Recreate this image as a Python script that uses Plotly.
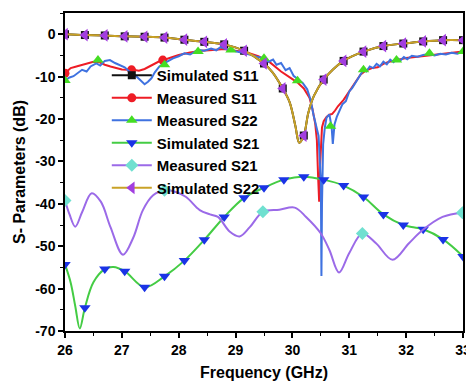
import plotly.graph_objects as go

# ---------------- data ----------------
# Simulated S22 (smooth curve) and its markers
sim_s22_x = [26.0, 26.35, 26.7, 27.05, 27.4, 27.75, 28.1, 28.45, 28.8, 29.15, 29.5, 29.65,
             29.83, 29.95, 30.05, 30.12, 30.2, 30.28, 30.38, 30.55, 30.9, 31.25, 31.6,
             31.95, 32.3, 32.65, 33.0]
sim_s22_y = [0.0, -0.2, -0.3, -0.5, -0.6, -0.8, -1.3, -1.8, -2.4, -3.9, -6.9, -9.0,
             -12.8, -16.0, -21.5, -25.6, -23.9, -18.5, -14.5, -10.7, -6.3, -4.1, -2.8,
             -2.2, -1.7, -1.4, -1.4]
sim_s22_mx = [26.0, 26.35, 26.7, 27.05, 27.4, 27.75, 28.1, 28.45, 28.8, 29.15, 29.5, 29.83,
              30.2, 30.55, 30.9, 31.25, 31.6, 31.95, 32.3, 32.65, 33.0]
sim_s22_my = [0.0, -0.2, -0.3, -0.5, -0.6, -0.8, -1.3, -1.8, -2.4, -3.9, -6.9, -12.8,
              -23.9, -10.7, -6.3, -4.1, -2.8, -2.2, -1.7, -1.4, -1.4]

# Simulated S11 (hidden underneath Simulated S22)
sim_s11_x = sim_s22_x
sim_s11_y = sim_s22_y
sim_s11_mx = sim_s22_mx
sim_s11_my = sim_s22_my

# Measured S11
meas_s11_x = [26.0, 26.1, 26.2, 26.3, 26.4, 26.5, 26.6, 26.7, 26.8, 26.9, 27.0, 27.1, 27.2,
              27.3, 27.4, 27.5, 27.6, 27.7, 27.8, 27.9, 28.0, 28.2, 28.4, 28.6, 28.8, 29.0,
              29.2, 29.4, 29.6, 29.8, 29.9, 30.0, 30.1, 30.2, 30.3, 30.35, 30.4, 30.43,
              30.45, 30.47, 30.49, 30.52, 30.55, 30.6, 30.65, 30.7, 30.75, 30.8, 30.9,
              31.0, 31.1, 31.2, 31.3, 31.4, 31.5, 31.6, 31.7, 31.8, 31.9, 32.0, 32.2,
              32.4, 32.6, 32.8, 33.0]
meas_s11_y = [-9.2, -8.0, -7.6, -7.2, -6.9, -6.5, -6.6, -7.2, -7.6, -8.0, -8.3, -8.4, -8.4,
              -8.6, -8.2, -7.5, -6.8, -6.1, -5.8, -5.3, -4.9, -4.3, -3.9, -3.7, -3.5, -3.9,
              -4.3, -5.2, -6.6, -8.8, -9.8, -10.6, -11.5, -12.8, -15.0, -17.5, -21.0,
              -25.0, -33.0, -39.5, -30.0, -22.0, -20.5, -19.5, -19.0, -18.8, -18.0, -17.0,
              -15.5, -13.5, -11.5, -9.5, -8.5, -8.0, -7.8, -7.0, -6.5, -6.2, -5.8, -5.6,
              -5.3, -5.0, -4.8, -4.5, -4.1]
meas_s11_mx = [26.0, 27.17, 27.72]
meas_s11_my = [-9.2, -8.4, -6.1]

# Measured S22
meas_s22_x = [26.0, 26.08, 26.15, 26.23, 26.3, 26.38, 26.45, 26.55, 26.62, 26.7, 26.79,
              26.88, 26.96, 27.05, 27.13, 27.22, 27.29, 27.35, 27.4, 27.46, 27.52, 27.58,
              27.66, 27.75, 27.82, 27.9, 28.0, 28.1, 28.2, 28.34, 28.45, 28.57, 28.66,
              28.74, 28.82, 28.92, 29.0, 29.1, 29.2, 29.3, 29.4, 29.5, 29.58, 29.66,
              29.72, 29.8, 29.88, 29.95, 30.02, 30.1, 30.18, 30.26, 30.32, 30.37, 30.42,
              30.46, 30.5, 30.51, 30.52, 30.54, 30.57, 30.6, 30.65, 30.69, 30.71, 30.74,
              30.78, 30.82, 30.88, 30.94, 31.0, 31.05, 31.12, 31.2, 31.25, 31.3, 31.36,
              31.42, 31.48, 31.54, 31.6, 31.66, 31.72, 31.78, 31.84, 31.9, 31.96, 32.02,
              32.1, 32.2, 32.3, 32.4, 32.5, 32.6, 32.7, 32.8, 32.9, 33.0]
meas_s22_y = [-10.9, -10.2, -9.9, -9.2, -8.4, -8.8, -7.6, -6.9, -7.4, -6.3, -6.1, -6.8,
              -7.2, -7.8, -8.8, -9.5, -10.4, -11.2, -11.8, -11.2, -10.4, -9.0, -7.6, -6.8,
              -6.3, -5.7, -5.2, -4.5, -4.8, -3.7, -3.9, -3.4, -3.8, -3.0, -3.5, -3.7,
              -4.0, -4.3, -4.6, -5.0, -5.4, -5.7, -6.5, -6.0, -7.2, -6.8, -8.5, -8.0,
              -9.8, -10.6, -11.5, -13.0, -15.5, -19.0, -21.5, -24.0, -35.0, -57.0, -40.0,
              -26.0, -22.0, -19.7, -18.9, -22.0, -25.9, -21.3, -19.5, -18.2, -16.5,
              -15.8, -13.5, -12.7, -11.1, -9.5, -8.4, -8.8, -7.6, -8.0, -7.0, -7.6,
              -6.5, -7.1, -6.0, -6.6, -5.6, -6.2, -5.4, -5.9, -5.1, -5.3, -4.9, -4.7,
              -5.0, -4.6, -4.8, -4.4, -4.6, -4.1]
meas_s22_mx = [26.0, 26.58, 27.75, 28.34, 28.92, 29.5, 30.09, 30.67, 31.25, 31.83, 32.41, 33.0]
meas_s22_my = [-10.9, -6.1, -7.2, -4.1, -3.7, -5.7, -11.0, -21.7, -8.4, -6.1, -4.5, -4.1]

# Simulated S21
sim_s21_x = [26.0, 26.1, 26.18, 26.26, 26.35, 26.5, 26.7, 26.85, 27.05, 27.4, 27.75, 28.1,
             28.45, 28.8, 29.15, 29.5, 29.85, 30.2, 30.55, 30.9, 31.25, 31.6, 31.95,
             32.15, 32.3, 32.65, 33.0]
sim_s21_y = [-54.3, -58.6, -64.1, -69.4, -64.5, -58.5, -55.4, -54.9, -55.9, -59.7, -57.1,
             -53.4, -48.5, -43.1, -38.6, -36.2, -34.3, -33.6, -34.3, -35.7, -38.4, -42.5,
             -45.0, -45.6, -46.0, -48.4, -52.4]
sim_s21_mx = [26.0, 26.35, 26.7, 27.05, 27.4, 27.75, 28.1, 28.45, 28.8, 29.15, 29.5, 29.85,
              30.2, 30.55, 30.9, 31.25, 31.6, 31.95, 32.3, 32.65, 33.0]
sim_s21_my = [-54.3, -64.5, -55.4, -55.9, -59.7, -57.1, -53.4, -48.5, -43.1, -38.6, -36.2,
              -34.3, -33.6, -34.3, -35.7, -38.4, -42.5, -45.0, -46.0, -48.4, -52.4]

# Measured S21
meas_s21_x = [26.0, 26.08, 26.18, 26.3, 26.47, 26.63, 26.8, 27.02, 27.2, 27.37, 27.55,
              27.75, 27.95, 28.13, 28.37, 28.55, 28.69, 28.9, 29.07, 29.25, 29.48, 29.77,
              30.04, 30.24, 30.5, 30.65, 30.82, 31.0, 31.23, 31.47, 31.76, 32.05, 32.29,
              32.64, 32.99]
meas_s21_y = [-39.2, -42.5, -45.4, -42.0, -37.5, -39.5, -45.5, -52.0, -48.0, -41.5, -38.0,
              -36.8, -37.2, -38.4, -41.5, -42.5, -43.1, -46.6, -47.7, -45.5, -41.9, -41.4,
              -40.9, -43.1, -47.0, -50.9, -56.2, -51.6, -47.0, -49.3, -53.2, -49.3, -46.2,
              -43.1, -42.1]
meas_s21_mx = [26.0, 27.75, 29.48, 31.23, 32.99]
meas_s21_my = [-39.2, -36.8, -41.9, -47.0, -42.1]

x_ticks = [26, 27, 28, 29, 30, 31, 32, 33]
y_ticks = [-70, -60, -50, -40, -30, -20, -10, 0]

# ---------------- styling ----------------
FONT = "Liberation Sans, Arial, sans-serif"

series = [
    # name, x, y, mx, my, line color, marker color, symbol, size, shape
    ("Simulated S11", sim_s11_x, sim_s11_y, sim_s11_mx, sim_s11_my, "#111111", "#111111", "square", 8, "spline"),
    ("Measured S11", meas_s11_x, meas_s11_y, meas_s11_mx, meas_s11_my, "#ee1c25", "#ee1c25", "circle", 9, "linear"),
    ("Measured S22", meas_s22_x, meas_s22_y, meas_s22_mx, meas_s22_my, "#3f72e0", "#44dd22", "triangle-up", 10, "linear"),
    ("Simulated S21", sim_s21_x, sim_s21_y, sim_s21_mx, sim_s21_my, "#44cc44", "#1a33e6", "triangle-down", 10, "spline"),
    ("Measured S21", meas_s21_x, meas_s21_y, meas_s21_mx, meas_s21_my, "#9b6ae8", "#70e0d0", "diamond", 10, "spline"),
    ("Simulated S22", sim_s22_x, sim_s22_y, sim_s22_mx, sim_s22_my, "#c9a227", "#a23ee0", "triangle-left", 11, "spline"),
]

fig = go.Figure()

for name, x, y, mx, my, lc, mc, sym, sz, shape in series:
    fig.add_trace(go.Scatter(x=x, y=y, mode="lines", line=dict(color=lc, width=2, shape=shape),
                             showlegend=False, hoverinfo="skip"))
    fig.add_trace(go.Scatter(x=mx, y=my, mode="markers",
                             marker=dict(symbol=sym, size=sz, color=mc, line=dict(width=0)),
                             showlegend=False, hoverinfo="skip"))
    fig.add_trace(go.Scatter(x=[None], y=[None], mode="lines+markers", name=name,
                             line=dict(color=lc, width=2),
                             marker=dict(symbol=sym, size=sz, color=mc, line=dict(width=0))))

# The page body has an 8px default margin, so the figure is made smaller
# and the margins shifted so that the plot lands where the reference has it
# without making the page scroll.
fig.update_layout(
    width=466, height=374,
    margin=dict(l=57, r=10, t=3, b=51),
    paper_bgcolor="white", plot_bgcolor="white",
    font=dict(family=FONT, color="black"),
    legend=dict(x=0.105, y=0.855, xanchor="left", yanchor="top",
                bgcolor="rgba(0,0,0,0)",
                font=dict(family=FONT, size=15, weight="bold", color="black"),
                tracegroupgap=0, itemwidth=40),
    xaxis=dict(range=[26, 33], tickvals=x_ticks, ticktext=[str(v) for v in x_ticks],
               showgrid=False, zeroline=False, showline=True, linecolor="black", linewidth=1.5,
               mirror=True, ticks="outside", ticklen=5, tickwidth=1.5, tickcolor="black",
               minor=dict(ticks="outside", ticklen=3, tickwidth=1, tickcolor="black", dtick=0.5),
               tickfont=dict(family=FONT, size=14, weight="bold"),
               title=dict(text="Frequency (GHz)", font=dict(family=FONT, size=16, weight="bold"),
                          standoff=10)),
    yaxis=dict(range=[-70, 5], tickvals=y_ticks, ticktext=[str(v) for v in y_ticks],
               showgrid=False, zeroline=False, showline=True, linecolor="black", linewidth=1.5,
               mirror=True, ticks="outside", ticklen=5, tickwidth=1.5, tickcolor="black",
               minor=dict(ticks="outside", ticklen=3, tickwidth=1, tickcolor="black", dtick=5),
               tickfont=dict(family=FONT, size=14, weight="bold"),
               title=dict(text="S- Parameters (dB)", font=dict(family=FONT, size=16, weight="bold"),
                          standoff=6)),
)

fig.write_html("out.html")
